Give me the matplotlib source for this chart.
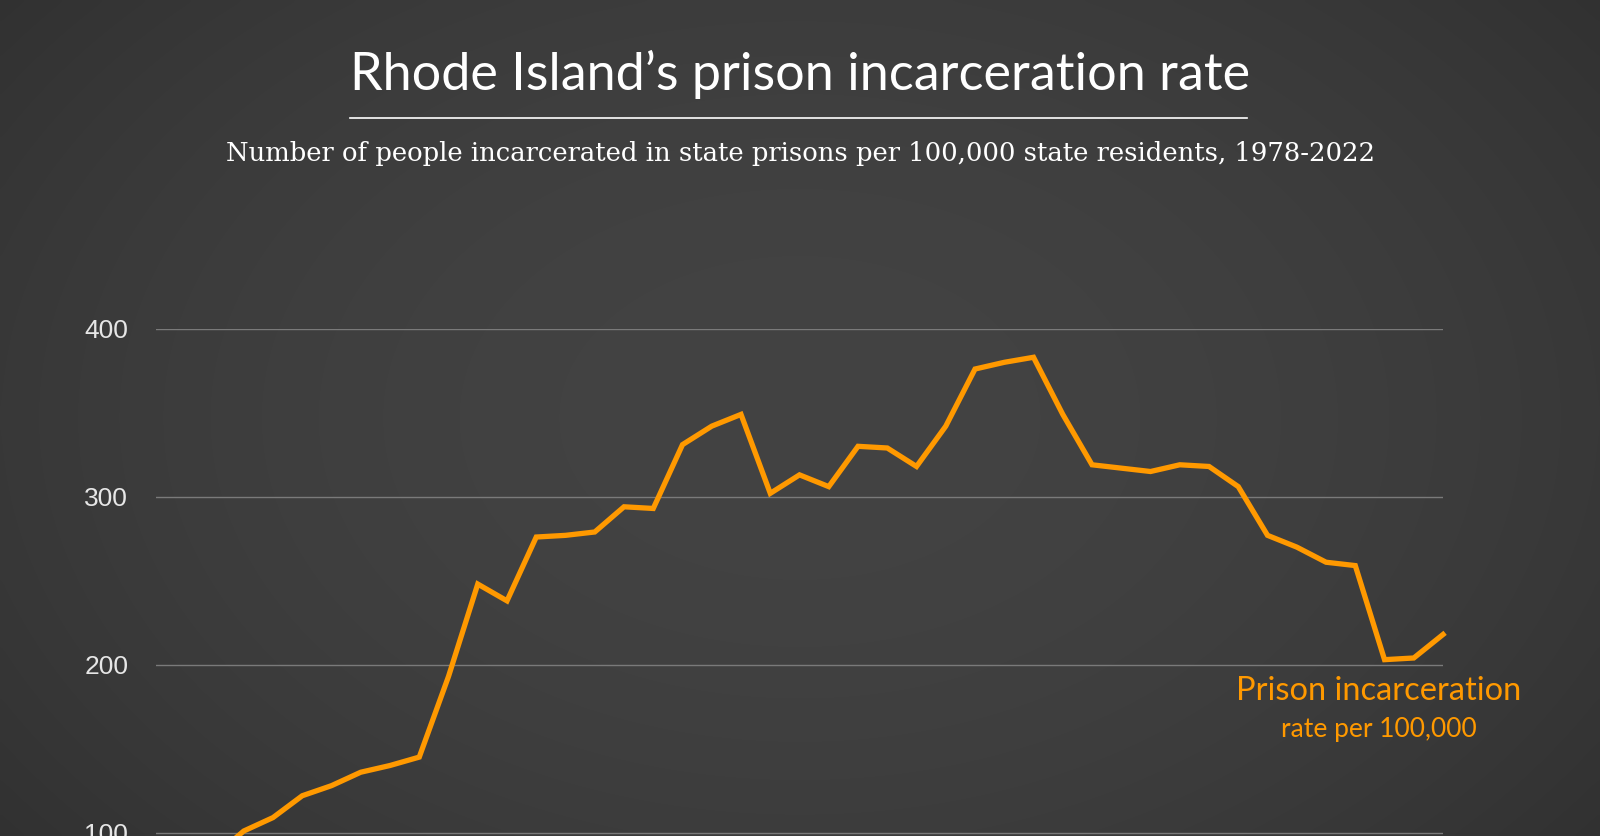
import numpy as np
import matplotlib
matplotlib.use('Agg')
import matplotlib.pyplot as plt

years = list(range(1978, 2023))
rate = [62, 72, 86,
        101, 109, 122, 128, 136, 140, 145, 193, 248, 238,
        276, 277, 279, 294, 293, 331, 342, 349, 302, 313,
        306, 330, 329, 318, 342, 376, 380, 383, 349, 319,
        317, 315, 319, 318, 306, 277, 270, 261, 259, 203,
        204, 218]
y_ticks = [100, 200, 300, 400]

ORANGE = '#ff9900'


def plot_rate() -> None:
    fig = plt.figure(figsize=(16, 8.36), dpi=100)

    # background vignette
    bg = fig.add_axes([0, 0, 1, 1], zorder=-10)
    gx, gy = np.meshgrid(np.linspace(-1, 1, 400), np.linspace(-1, 1, 210))
    d = np.clip(np.sqrt(gx ** 2 * 1.0 + gy ** 2 * 0.6), 0, 1.3)
    shade = 0x43 - 11 * d ** 2
    img = np.dstack([shade, shade, shade]) / 255.0
    bg.imshow(img, aspect='auto', extent=[0, 1, 0, 1], interpolation='bicubic')
    bg.axis('off')

    ax = fig.add_axes([0.0975, -0.197, 0.8044, 0.8038])
    ax.patch.set_alpha(0)
    ax.set_xlim(1978, 2022)
    ax.set_ylim(0, 400)
    ax.set_yticks(y_ticks)
    ax.set_yticklabels([str(t) for t in y_ticks], fontsize=19,
                       color='#e6e6e6', family='Liberation Sans')
    ax.tick_params(axis='y', length=0, pad=20)
    ax.set_xticks([])
    ax.grid(axis='y', color='#7a7a7a', linewidth=1.0)
    for s in ax.spines.values():
        s.set_visible(False)

    ax.plot(years, rate, color=ORANGE, linewidth=3.8, solid_joinstyle='miter',
            clip_on=False, zorder=3)

    ax.text(2019.8, 179, 'Prison incarceration', color=ORANGE, fontsize=23.5,
            family='Lato', ha='center', va='baseline')
    ax.text(2019.8, 157, 'rate per 100,000', color=ORANGE, fontsize=19,
            family='Lato', ha='center', va='baseline')

    fig.text(0.5, 1 - 90 / 836, 'Rhode Island\u2019s prison incarceration rate',
             color='white', fontsize=37.5, family='Lato', ha='center', va='baseline')
    fig.add_artist(plt.Line2D([350 / 1600, 1247 / 1600], [1 - 118 / 836] * 2,
                              color='white', linewidth=1.2))
    fig.text(0.5, 1 - 161 / 836,
             'Number of people incarcerated in state prisons per 100,000 state residents, 1978-2022',
             color='white', fontsize=18.6, family='DejaVu Serif',
             ha='center', va='baseline')

    fig.savefig('out.png', dpi=100, facecolor='#3c3c3c')


if __name__ == '__main__':
    plot_rate()
